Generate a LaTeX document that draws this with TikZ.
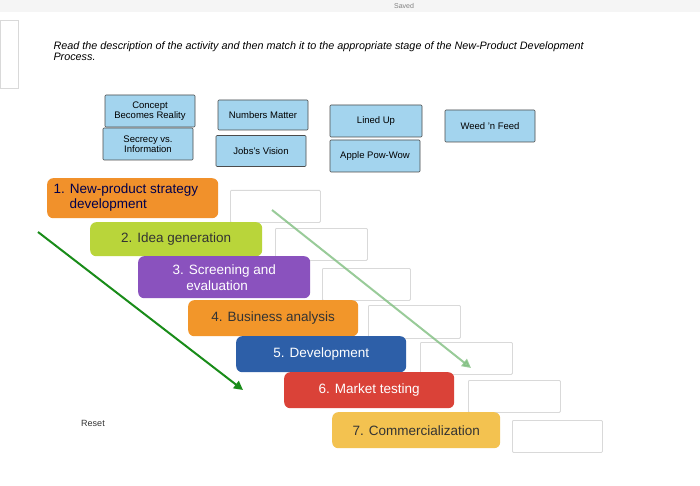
\documentclass[tikz,border=0pt]{standalone}
\usepackage{fontspec}
\setmainfont{Liberation Sans}
\usetikzlibrary{arrows.meta}
\definecolor{cardc}{HTML}{A3D4EE}
\definecolor{o1}{HTML}{F1912B}
\definecolor{l2}{HTML}{B9D53A}
\definecolor{p3}{HTML}{8A52BE}
\definecolor{o4}{HTML}{F2962A}
\definecolor{b5}{HTML}{2D5FA8}
\definecolor{r6}{HTML}{DA4238}
\definecolor{y7}{HTML}{F3C250}
\begin{document}
\begin{tikzpicture}[x=1pt,y=-1pt,
  card/.style={draw=black!70,fill=cardc,line width=0.6pt,rounded corners=1pt,font=\fontsize{9.5}{10}\selectfont,align=center,inner sep=0pt},
  stage/.style={rounded corners=6pt,font=\fontsize{13.5}{14}\selectfont,align=center,inner sep=0pt},
  slot/.style={draw=black!15,fill=white,line width=0.8pt,rounded corners=1pt},
  arr/.style={line width=2pt,-{Triangle[length=9pt,width=9pt]}}]
\useasboundingbox (0,0) rectangle (700,486);
\fill[black!4] (0,0) rectangle (700,486);
\fill[white] (0,12) rectangle (700,486);
\node[font=\fontsize{7}{7}\selectfont,text=black!50] (saved) at (404,6) {Saved};
\node[font=\itshape\fontsize{10.8}{11}\selectfont,align=left,anchor=north west] (instr) at (50,38) {Read the description of the activity and then match it to the appropriate stage of the New-Product Development\\Process.};
\draw[black!15] (0,20) rectangle (18,88);
% cards
\node[card,minimum width=90,minimum height=32] (c1) at (150,111) {Concept\\Becomes Reality};
\node[card,minimum width=90,minimum height=30] (c2) at (263,115) {Numbers Matter};
\node[card,minimum width=92,minimum height=32] (c3) at (376,121) {Lined Up};
\node[card,minimum width=90,minimum height=32] (c4) at (490,126) {Weed 'n Feed};
\node[card,minimum width=90,minimum height=32] (c5) at (148,144) {Secrecy vs.\\Information};
\node[card,minimum width=90,minimum height=31] (c6) at (261,151) {Jobs's Vision};
\node[card,minimum width=90,minimum height=32] (c7) at (375,156) {Apple Pow-Wow};
% stages
\node[stage,fill=o1,minimum width=171,minimum height=40,anchor=north west] (s1) at (47,178) {};
\node[font=\fontsize{13.5}{15}\selectfont,align=left,anchor=north west,text=blue!30!black] (t1) at (50,180) {1. New-product strategy\\\hspace*{16pt}development};
\node[slot,minimum width=90,minimum height=32,anchor=north west] (b1) at (230,190) {};
\node[stage,fill=l2,text=black!80,minimum width=172,minimum height=34,anchor=north west] (s2) at (90,222) {2. Idea generation};
\node[slot,minimum width=92,minimum height=32,anchor=north west] (b2) at (275,228) {};
\node[stage,fill=p3,text=white,minimum width=172,minimum height=42,anchor=north west,font=\fontsize{13.5}{16}\selectfont] (s3) at (138,256) {3. Screening and\\\hspace*{-14pt}evaluation};
\node[slot,minimum width=88,minimum height=32,anchor=north west] (b3) at (322,268) {};
\node[stage,fill=o4,text=black!80,minimum width=170,minimum height=36,anchor=north west] (s4) at (188,300) {4. Business analysis};
\node[slot,minimum width=92,minimum height=33,anchor=north west] (b4) at (368,305) {};
\node[stage,fill=b5,text=white,minimum width=170,minimum height=36,anchor=north west] (s5) at (236,336) {5. Development};
\node[slot,minimum width=92,minimum height=32,anchor=north west] (b5) at (420,342) {};
\node[stage,fill=r6,text=white,minimum width=170,minimum height=36,anchor=north west] (s6) at (284,372) {6. Market testing};
\node[slot,minimum width=92,minimum height=32,anchor=north west] (b6) at (468,380) {};
\node[stage,fill=y7,text=black!80,minimum width=168,minimum height=36,anchor=north west] (s7) at (332,412) {7. Commercialization};
\node[slot,minimum width=90,minimum height=32,anchor=north west] (b7) at (512,420) {};
% arrows
\coordinate (a1s) at (38,232); \coordinate (a1e) at (243,390);
\draw[arr,green!50!black!90] (a1s) -- (a1e);
\coordinate (a2s) at (272,210); \coordinate (a2e) at (471,368);
\draw[arr,green!50!black!50,opacity=0.8] (a2s) -- (a2e);
\node[font=\fontsize{9}{9}\selectfont,text=black!80] (reset) at (93,423) {Reset};
\end{tikzpicture}
\end{document}
